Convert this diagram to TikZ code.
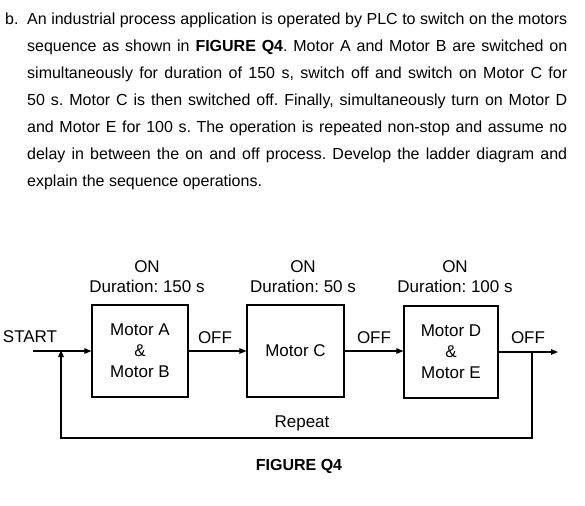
\documentclass[tikz,border=0pt]{standalone}
\usepackage{fontspec}
\setmainfont{Liberation Sans}
\usetikzlibrary{arrows.meta}

\tikzset{
  motorbox/.style={draw,line width=1.1pt,inner sep=0pt,align=center,
    font=\fontsize{17}{21}\selectfont},
  flowlabel/.style={inner sep=0pt,align=center,font=\fontsize{17}{20}\selectfont},
  flow/.style={line width=1.1pt,-{Triangle[length=7pt,width=5.5pt]}}
}

\begin{document}
\frenchspacing
\begin{tikzpicture}[x=1pt,y=-1pt]
\useasboundingbox (0,0) rectangle (585,505);
\node[inner sep=0pt,anchor=base west,font=\fontsize{16}{27}\selectfont] (item) at (5,25) {b.};
\node[inner sep=0pt,anchor=north west,text width=540pt,align=justify,
  font=\fontsize{16}{27}\selectfont] (question) at (27,13.2)
  {An industrial process application is operated by PLC to switch on the motors\linebreak
   sequence as shown in \textbf{FIGURE Q4}. Motor A and Motor B are switched on\linebreak
   simultaneously for duration of 150 s, switch off and switch on Motor C for\linebreak
   50 s. Motor C is then switched off. Finally, simultaneously turn on Motor D\linebreak
   and Motor E for 100 s. The operation is repeated non-stop and assume no\linebreak
   delay in between the on and off process. Develop the ladder diagram and\linebreak
   explain the sequence operations.};

\node[motorbox,minimum width=96pt,minimum height=92pt] (ab) at (140,351) {Motor A\\\&\\Motor B};
\node[motorbox,minimum width=97pt,minimum height=92pt] (c) at (295.5,351) {Motor C};
\node[motorbox,minimum width=94pt,minimum height=92pt] (de) at (451,352) {Motor D\\\&\\Motor E};

\node[flowlabel] (onab) at (147,277) {ON\\Duration: 150 s};
\node[flowlabel] (onc) at (303,277) {ON\\Duration: 50 s};
\node[flowlabel] (onde) at (455,277) {ON\\Duration: 100 s};

\node[flowlabel] (start) at (30,337) {START};
\node[flowlabel] (offab) at (215,338) {OFF};
\node[flowlabel] (offc) at (374,338) {OFF};
\node[flowlabel] (offde) at (528,338) {OFF};
\node[flowlabel] (repeat) at (302,423) {Repeat};
\node[inner sep=0pt,font=\fontsize{16}{20}\selectfont\bfseries] (caption) at (299,466) {FIGURE Q4};

\coordinate (in) at (33,351);
\coordinate (join) at (61,351);
\coordinate (out) at (558,352);
\coordinate (tap) at (532,352);
\coordinate (loop) at (532,438);

\draw[flow] (in) -- (ab.west);
\draw[flow] (ab) -- (c);
\draw[flow] (c.east) -- (c.east -| de.west);
\draw[flow] (de.east) -- (out);
\draw[flow] (tap) -- (loop) -| ([yshift=1pt]join);
\end{tikzpicture}
\end{document}
